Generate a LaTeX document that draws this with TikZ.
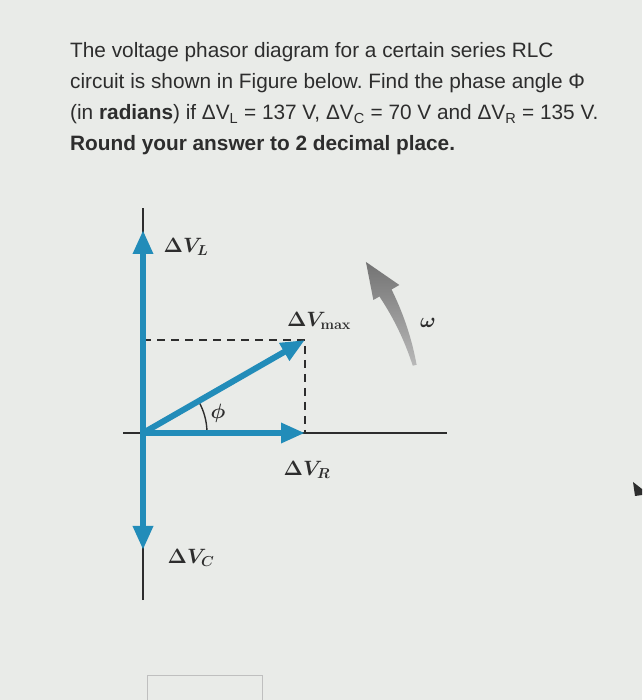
\documentclass[tikz,border=0pt]{standalone}
\usepackage[no-math]{fontspec}
\setmainfont{Liberation Sans}
\usepackage{amsmath}
\usetikzlibrary{arrows.meta}
\definecolor{phasor}{RGB}{34,140,185}
\definecolor{paper}{RGB}{233,235,232}
\definecolor{ink}{RGB}{45,45,45}
\frenchspacing

\begin{document}
\begin{tikzpicture}[x=1pt,y=1pt,
    txt/.style={anchor=base west,inner sep=0pt,text=ink,font=\fontsize{20.8}{25}\selectfont},
    lbl/.style={inner sep=1pt,text=ink,font=\fontsize{21}{24}\selectfont\boldmath},
    vec/.style={phasor,line width=6pt,-{Triangle[length=24pt,width=19pt]}},
    axis/.style={line width=2pt,ink},
    guide/.style={line width=2pt,ink,dash pattern=on 8pt off 6pt}]
  \def\vl{203};
  \def\vc{117};
  \def\vr{162};
  \def\vx{93};
  \def\rw{280};
  \useasboundingbox[fill=paper] (-143,-267) rectangle (499,433);
  \node[txt] (q1) at (-73,375) {The voltage phasor diagram for a certain series RLC};
  \node[txt] (q2) at (-73,344) {circuit is shown in Figure below. Find the phase angle Φ};
  \node[txt] (q3) at (-73,313) {(in \textbf{radians}) if ΔV\textsubscript{L} = 137 V, ΔV\textsubscript{C} = 70 V and ΔV\textsubscript{R} = 135 V.};
  \node[txt] (q4) at (-73,282) {\textbf{Round your answer to 2 decimal place.}};
  \coordinate (O) at (0,0);
  \coordinate (axT) at (0,225);
  \coordinate (axB) at (0,-167);
  \coordinate (axW) at (-20,0);
  \coordinate (axE) at (304,0);
  \coordinate (L) at (0,\vl);
  \coordinate (C) at (0,-\vc);
  \coordinate (R) at (\vr,0);
  \coordinate (M) at (\vr,\vx);
  \coordinate (ML) at (0,\vx);
  \draw[axis] (axB)--(axT);
  \draw[axis] (axW)--(axE);
  \draw[guide] (ML)--(M)--(R);
  \draw[ink,line width=1.4pt] (64,0) arc[start angle=0,end angle=29.9,radius=64];
  \draw[vec] (O)--(L);
  \draw[vec] (O)--(C);
  \draw[vec] (O)--(R);
  \draw[vec] (O)--(M);
  %rotation arrow
  \shade[top color=gray!90!black,bottom color=gray!55] plot[domain=14:30,samples=20] (\x:{\rw+2+5*(\x-14)/16})
    --(30:\rw+16)--(37.5:\rw+1)--(30:\rw-14)
    --plot[domain=30:14,samples=20] (\x:{\rw-2-5*(\x-14)/16})--cycle;
  \node[lbl] (nL) at (43,186) {$\Delta V_L$};
  \node[lbl] (nM) at (176,112) {$\Delta V_{\mathrm{max}}$};
  \node[lbl] (nP) at (75,20) {$\phi$};
  \node[lbl] (nR) at (164,-37) {$\Delta V_R$};
  \node[lbl] (nC) at (48,-125) {$\Delta V_C$};
  \node[lbl] (nW) at (285,110) {$\omega$};
  %screen bits
  \draw[gray!50,line width=0.6pt] (4,-267)--(4,-242)--(119,-242)--(119,-267);
  \fill[ink] (490,-49)--(499,-56)--(499,-62)--(492,-63)--cycle;
\end{tikzpicture}
\end{document}
